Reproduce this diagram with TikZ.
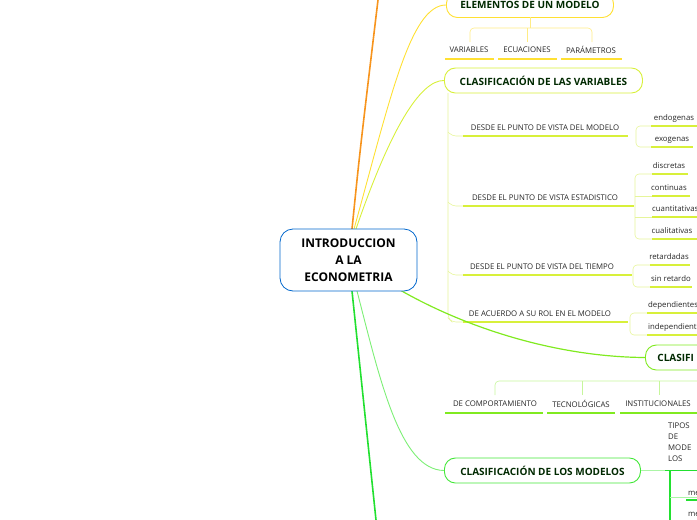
\documentclass[tikz,border=0pt]{standalone}
\usepackage{fontspec}
\setmainfont{Open Sans}
\begin{document}
\begin{tikzpicture}[x=1pt,y=-1pt,
  main/.style={draw=#1,line width=0.9pt,rounded corners=11pt,fill=white,inner xsep=12pt,minimum height=25pt,font=\bfseries\fontsize{10}{11}\selectfont,text=black!60!green!40!black},
  lbl/.style={font=\fontsize{7.8}{9}\selectfont,inner sep=0pt,text=black!85},
  ul/.style={line width=1.6pt,draw=#1},
  br/.style={draw=#1,line width=0.6pt,rounded corners=4pt}]
\useasboundingbox (0,0) rectangle (697,520);
\definecolor{cor}{HTML}{F7941D}
\definecolor{cy}{HTML}{FFE033}
\definecolor{cyg}{HTML}{D8F03A}
\definecolor{cpl}{HTML}{E6F59A}
\definecolor{cg}{HTML}{80EA20}
\definecolor{cgm}{HTML}{44E83A}
\definecolor{cgb}{HTML}{22E030}
\coordinate (otop) at (378,0);
\coordinate (gbot) at (376,520);
\draw[cor,line width=1.6pt] (352,229) .. controls (360,150) .. (otop);
\draw[cgb,line width=1.6pt] (352,291) -- (gbot);
% elementos
\node[main=cy,anchor=west,minimum width=167pt] (el) at (446,5) {ELEMENTOS DE UN MODELO};
\draw[cy,line width=0.9pt] (354,229) .. controls (390,100) and (410,5) .. (el.west);
\draw[cy!60,line width=0.7pt] (530,17) -- (530,28);
\draw[br=cy!60] (470,42) |- (592,28) -- (592,42);
\draw[cy!60,line width=0.6pt] (527,28) -- (527,42);
\node[lbl] (v1) at (469,50) {VARIABLES};
\node[lbl] (v2) at (527,50) {ECUACIONES};
\node[lbl] (v3) at (591,50) {PARÁMETROS};
\draw[ul=cy] (445,59) -- (494,59); \draw[ul=cy] (498,59) -- (557,59); \draw[ul=cy] (561,59) -- (622,59);
% clasif variables
\node[main=cyg,anchor=west,minimum width=198pt] (cv) at (444,80.5) {CLASIFICACIÓN DE LAS VARIABLES};
\draw[cyg,line width=0.9pt] (356,229) .. controls (390,130) and (420,80) .. (cv.west);
\draw[br=cpl] (448,93) -- (448,318) -- (452,322) -- (463,322);
\foreach \y in {136,206,275} \draw[br=cpl] (448,\y-4) -- (452,\y) -- (463,\y);
\node[lbl] (a1) at (545,128) {DESDE EL PUNTO DE VISTA DEL MODELO};
\node[lbl] (a2) at (545,198) {DESDE EL PUNTO DE VISTA ESTADISTICO};
\node[lbl] (a3) at (542,267) {DESDE EL PUNTO DE VISTA DEL TIEMPO};
\node[lbl] (a4) at (540,314) {DE ACUERDO A SU ROL EN EL MODELO};
\draw[ul=cyg] (463,136) -- (628,136); \draw[ul=cyg] (463,206) -- (634,206);
\draw[ul=cyg] (463,275) -- (632,275); \draw[ul=cyg] (463,322) -- (628,322);
% leaf brackets
\draw[br=cpl] (651,126) -| (636,147) -- (651,147);
\draw[br=cpl] (652,174) -| (635,239) -- (652,239); \draw[cpl,line width=0.6pt] (635,196)--(652,196) (635,217)--(652,217);
\draw[br=cpl] (650,265) -| (633,287) -- (650,287);
\draw[br=cpl] (647,313) -| (630,335) -- (647,335);
\node[lbl] (b1) at (674,118) {endogenas}; \draw[ul=cyg] (651,126) -- (697,126);
\node[lbl] (b2) at (672,140) {exogenas}; \draw[ul=cyg] (651,147) -- (693,147);
\node[lbl] (c1) at (669,166) {discretas}; \draw[ul=cyg] (652,174) -- (688,174);
\node[lbl] (c2) at (669,188) {continuas}; \draw[ul=cyg] (652,196) -- (690,196);
\node[lbl,anchor=west] (c3) at (652,209) {cuantitativas}; \draw[ul=cyg] (652,217) -- (697,217);
\node[lbl] (c4) at (672,231) {cualitativas}; \draw[ul=cyg] (652,239) -- (697,239);
\node[lbl] (d1) at (669,257) {retardadas}; \draw[ul=cyg] (650,265) -- (690,265);
\node[lbl] (d2) at (671,279) {sin retardo}; \draw[ul=cyg] (650,287) -- (692,287);
\node[lbl,anchor=west] (e1) at (648,305) {dependientes}; \draw[ul=cyg] (647,313) -- (697,313);
\node[lbl,anchor=west] (e2) at (648,327) {independientes}; \draw[ul=cyg] (647,335) -- (697,335);
% clasif (clipped)
\node[main=cg,anchor=west,minimum width=80pt,align=left,text width=60pt] (ce) at (645,357.5) {CLASIFI};
\draw[cg,line width=1.2pt] (400,290) .. controls (470,330) and (560,357) .. (ce.west);
\draw[br=cg!45] (495,395) |- (700,381);
\draw[cg!45,line width=0.6pt] (582,381)--(582,395) (659,381)--(659,395);
\node[lbl] (f1) at (495,404) {DE COMPORTAMIENTO};
\node[lbl] (f2) at (581,404) {TECNOLÓGICAS};
\node[lbl] (f3) at (658,404) {INSTITUCIONALES};
\draw[ul=cg] (445,413) -- (543,413); \draw[ul=cg] (547,413) -- (615,413); \draw[ul=cg] (620,413) -- (697,413);
% clasif modelos
\node[main=cgm,anchor=west,minimum width=196pt] (cm) at (444,470.5) {CLASIFICACIÓN DE LOS MODELOS};
\draw[cgm!70,line width=0.9pt] (357,291) .. controls (380,380) and (400,470) .. (cm.west);
\draw[cgm!45,line width=1.2pt] (cm.east) -- (697,470.5);
\node[lbl,align=left,anchor=north west,font=\fontsize{7.8}{11}\selectfont] (tm) at (668,423) {TIPOS\\DE\\MODE\\LOS};
\draw[cgb,line width=1.6pt] (665,470.5) -- (697,470.5);
\draw[cgb,line width=2pt] (670,470) -- (670,520);
\draw[cgm!45,line width=0.6pt] (670,497) -- (697,497);
\node[lbl,anchor=west] (m1) at (688,493) {me};
\node[lbl,anchor=west] (m2) at (688,514) {me};
\draw[ul=cgb] (686,500) -- (697,500);
% center
\node[draw=blue!50!cyan!80!black,line width=0.8pt,rounded corners=13pt,fill=white,minimum width=137pt,minimum height=62pt,align=center,font=\bfseries\fontsize{12}{17}\selectfont] (c) at (348.5,260) {INTRODUCCION\\A LA\\ECONOMETRIA};
\end{tikzpicture}
\end{document}
